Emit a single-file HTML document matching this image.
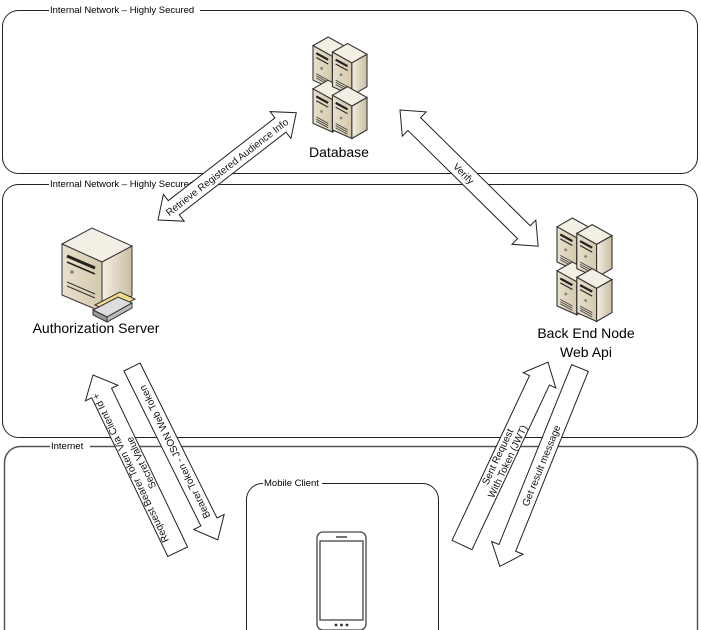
<!DOCTYPE html>
<html><head><meta charset="utf-8"><style>
html,body{margin:0;padding:0;background:#fff;}
svg{display:block;font-family:"Liberation Sans",sans-serif;}
</style></head><body>
<svg width="701" height="630" viewBox="0 0 701 630" xmlns="http://www.w3.org/2000/svg">
<defs>
<linearGradient id="side" x1="0" y1="0" x2="1" y2="0">
<stop offset="0" stop-color="#f4efe2"/><stop offset="1" stop-color="#c9bea3"/></linearGradient>
<linearGradient id="front" x1="0" y1="0" x2="1" y2="0">
<stop offset="0" stop-color="#e8e0cc"/><stop offset="1" stop-color="#d4c9ae"/></linearGradient>
<g id="tower">
<polygon points="0,8 14,0 32,10 18,18" fill="#f3efe4" stroke="#333" stroke-width="1"/>
<polygon points="0,8 18,18 18,48 0,40" fill="url(#front)" stroke="#333" stroke-width="1"/>
<polygon points="18,18 32,10 32,40 18,48" fill="url(#side)" stroke="#333" stroke-width="1"/>
<line x1="3" y1="15" x2="14" y2="21" stroke="#222" stroke-width="2"/>
<line x1="3" y1="19" x2="14" y2="25" stroke="#222" stroke-width="1"/>
<circle cx="8" cy="29" r="1.3" fill="#7a8a7a"/>
<line x1="3" y1="34" x2="14" y2="40" stroke="#444" stroke-width="0.8"/>
<line x1="3" y1="36" x2="14" y2="42" stroke="#444" stroke-width="0.8"/>
<line x1="3" y1="38" x2="14" y2="44" stroke="#444" stroke-width="0.8"/>
</g>
<g id="cluster">
<use href="#tower" x="0" y="0"/>
<use href="#tower" x="0" y="40"/>
<use href="#tower" x="18" y="6" transform="translate(0,0)"/>
<use href="#tower" x="18" y="46"/>
</g>
</defs>

<!-- containers -->
<rect x="2.5" y="10.5" width="695" height="163" rx="16" fill="none" stroke="#222" stroke-width="1"/>
<rect x="2.5" y="184.5" width="695" height="253" rx="16" fill="none" stroke="#222" stroke-width="1"/>
<rect x="4.5" y="446.5" width="693" height="200" rx="16" fill="none" stroke="#555" stroke-width="1.5"/>
<rect x="246.5" y="483.5" width="192" height="170" rx="16" fill="none" stroke="#222" stroke-width="1"/>
<rect x="49" y="4" width="151" height="12" fill="#fff"/>
<text x="50" y="13" font-size="9.5">Internal Network – Highly Secured</text>
<rect x="49" y="178" width="151" height="12" fill="#fff"/>
<text x="50" y="187" font-size="9.5">Internal Network – Highly Secured</text>
<rect x="50" y="440" width="40" height="12" fill="#fff"/>
<text x="51" y="449" font-size="9.5">Internet</text>
<rect x="263" y="477" width="59" height="12" fill="#fff"/>
<text x="264" y="486" font-size="9.5">Mobile Client</text>

<!-- servers -->
<use href="#cluster" transform="translate(313,37) scale(1.08)"/>
<use href="#cluster" transform="translate(557,218) scale(1.1)"/>
<text x="339" y="157" font-size="14" text-anchor="middle">Database</text>
<text x="586" y="338" font-size="14" text-anchor="middle">Back End Node</text>
<text x="586" y="357" font-size="14" text-anchor="middle">Web Api</text>

<!-- auth server -->
<g stroke="#333" stroke-width="1">
<polygon points="62,244 92,228 132,246 102,262" fill="#f3efe4"/>
<polygon points="62,244 102,262 102,312 62,295" fill="url(#front)"/>
<polygon points="102,262 132,246 132,296 102,312" fill="url(#side)"/>
<line x1="67" y1="256" x2="95" y2="268" stroke="#222" stroke-width="3"/>
<line x1="67" y1="262" x2="95" y2="274" stroke="#222" stroke-width="1.5"/>
<line x1="67" y1="282" x2="95" y2="294" stroke-width="1"/>
<line x1="67" y1="286" x2="95" y2="298" stroke-width="1"/>
<polygon points="95,305 120,292 135,299 110,312" fill="#f3dc8a"/>
<polygon points="93,310 118,297 132,303 107,317" fill="#ddd"/>
<polygon points="93,310 107,317 107,322 93,315" fill="#999"/>
<polygon points="107,317 132,303 132,308 107,322" fill="#bbb"/>
</g>
<circle cx="72" cy="272" r="1.8" fill="#7a8a7a"/>
<text x="96" y="333" font-size="14" text-anchor="middle">Authorization Server</text>

<!-- arrows -->
<g fill="#fff" stroke="#222" stroke-width="1">
<!-- Retrieve: double -->
<g transform="translate(158,220) rotate(-37.8)">
<polygon points="0,0 20,-17 20,-9 155,-9 155,-17 175,0 155,17 155,9 20,9 20,17"/>
<text x="87" y="4" font-size="10" stroke="none" fill="#111" text-anchor="middle">Retrieve Registered Audience Info</text>
</g>
<!-- Verify: double -->
<g transform="translate(400,110) rotate(44.6)">
<polygon points="0,0 20,-17 20,-9 174,-9 174,-17 194,0 174,17 174,9 20,9 20,17"/>
<text x="90" y="4" font-size="10" stroke="none" fill="#111" text-anchor="middle" transform="rotate(0)">Verify</text>
</g>
<!-- Request: head at (93,375) -->
<g transform="translate(93,375) rotate(64.4)">
<polygon points="0,0 20,-18 20,-11 196,-11 196,11 20,11 20,18"/>
<rect x="30" y="-10" width="150" height="20" fill="#fff" stroke="none"/>
<text transform="rotate(180 100 0)" x="100" y="-3" font-size="10" stroke="none" fill="#111" text-anchor="middle">Request Bearer Token Via Client Id +</text>
<text transform="rotate(180 100 0)" x="100" y="9" font-size="10" stroke="none" fill="#111" text-anchor="middle">Secret Value</text>
</g>
<!-- Bearer: head at (218,540) -->
<g transform="translate(132,367) rotate(63.6)">
<polygon points="0,-9 173,-9 173,-17 193,0 173,17 173,9 0,9"/>
<text transform="rotate(180 95 0)" x="95" y="4" font-size="10" stroke="none" fill="#111" text-anchor="middle">Bearer Token - JSON Web Token</text>
</g>
<!-- Sent request: head at (548,362) -->
<g transform="translate(462,545) rotate(-64.8)">
<polygon points="0,-11 182,-11 182,-18 202,0 182,18 182,11 0,11"/>
<rect x="40" y="-10" width="100" height="20" fill="#fff" stroke="none"/>
<text x="95" y="-2" font-size="10" stroke="none" fill="#111" text-anchor="middle">Sent Request</text>
<text x="95" y="9" font-size="10" stroke="none" fill="#111" text-anchor="middle">With Token (JWT)</text>
</g>
<!-- Get result: head at (500,566) -->
<g transform="translate(580,368) rotate(112)">
<polygon points="0,-9 194,-9 194,-17 214,0 194,17 194,9 0,9"/>
<text transform="rotate(180 105 0)" x="105" y="4" font-size="10" stroke="none" fill="#111" text-anchor="middle">Get result message</text>
</g>
</g>

<!-- phone -->
<g fill="none" stroke="#444" stroke-width="1.3">
<rect x="317" y="532" width="49" height="98" rx="6"/>
<rect x="320" y="541" width="43" height="79"/>
</g>
<line x1="336" y1="537" x2="347" y2="537" stroke="#444" stroke-width="1.5"/>
<circle cx="336" cy="625" r="1.4" fill="#333"/><circle cx="341.5" cy="625" r="1.4" fill="#333"/><circle cx="347" cy="625" r="1.4" fill="#333"/>
</svg>
</body></html>
